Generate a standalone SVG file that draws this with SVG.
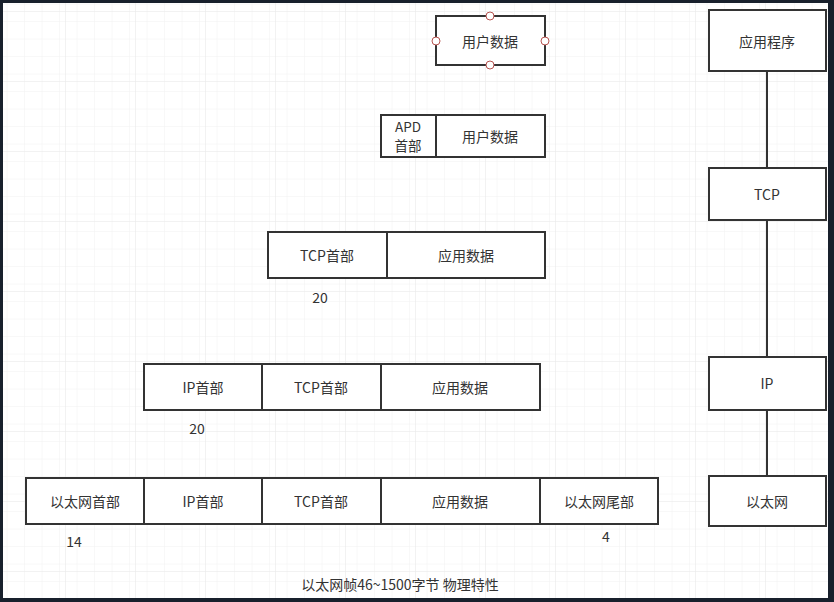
<svg xmlns="http://www.w3.org/2000/svg" width="834" height="602" viewBox="0 0 834 602">
<defs>
<pattern id="minor" x="-5" y="11" width="17.5" height="17.5" patternUnits="userSpaceOnUse"><path d="M17.5 0V17.5M0 17.5H17.5" fill="none" stroke="#f2f2f2" stroke-width="1"/></pattern>
<pattern id="major" x="-5" y="11" width="70" height="70" patternUnits="userSpaceOnUse"><rect width="70" height="70" fill="url(#minor)"/><path d="M0 0V70M0 0H70" fill="none" stroke="#e6e6e6" stroke-width="1"/></pattern>
<style>
.b{fill:#fff;stroke:#333;stroke-width:2}
text{font-family:"Noto Sans CJK SC","Liberation Sans",sans-serif;font-size:14px;fill:#333;text-anchor:middle;dominant-baseline:central}
.s{font-size:13.5px}
.h{fill:#fff;stroke:#b85450;stroke-width:1}
</style>
</defs>
<rect width="834" height="602" fill="#18202c"/>
<rect x="3" y="3" width="825" height="595" fill="#fff"/>
<rect x="3" y="3" width="825" height="595" fill="url(#major)"/>
<g id="connectors"><path d="M767 71V168M767 220V357M767 410V476" stroke="#333" stroke-width="2" fill="none"/></g>
<g id="user1"><rect class="b" x="436" y="16" width="109" height="49"/><text x="490" y="41">用户数据</text>
<circle class="h" cx="490" cy="16" r="4"/><circle class="h" cx="436" cy="41" r="4"/><circle class="h" cx="545" cy="41" r="4"/><circle class="h" cx="490" cy="65" r="4"/></g>
<g id="row2"><rect class="b" x="381" y="115" width="55" height="42"/><text class="s" x="408" y="126">APD</text><text class="s" x="408" y="145">首部</text>
<rect class="b" x="436" y="115" width="109" height="42"/><text x="490" y="136">用户数据</text></g>
<g id="row3"><rect class="b" x="268" y="232" width="119" height="46"/><text x="327" y="255">TCP首部</text>
<rect class="b" x="387" y="232" width="158" height="46"/><text x="466" y="255">应用数据</text><text x="320" y="297">20</text></g>
<g id="row4"><rect class="b" x="144" y="364" width="118" height="46"/><text x="203" y="387">IP首部</text>
<rect class="b" x="262" y="364" width="119" height="46"/><text x="321" y="387">TCP首部</text>
<rect class="b" x="381" y="364" width="159" height="46"/><text x="460" y="387">应用数据</text><text x="197" y="428">20</text></g>
<g id="row5"><rect class="b" x="26" y="478" width="118" height="46"/><text x="85" y="501">以太网首部</text>
<rect class="b" x="144" y="478" width="118" height="46"/><text x="203" y="501">IP首部</text>
<rect class="b" x="262" y="478" width="119" height="46"/><text x="321" y="501">TCP首部</text>
<rect class="b" x="381" y="478" width="159" height="46"/><text x="460" y="501">应用数据</text>
<rect class="b" x="540" y="478" width="118" height="46"/><text x="599" y="501">以太网尾部</text>
<text x="74" y="541">14</text><text x="606" y="536">4</text></g>
<g id="app"><rect class="b" x="709" y="10" width="117" height="61"/><text x="767" y="41">应用程序</text></g>
<g id="tcp"><rect class="b" x="709" y="168" width="117" height="52"/><text x="767" y="194">TCP</text></g>
<g id="ip"><rect class="b" x="709" y="357" width="117" height="53"/><text x="767" y="383">IP</text></g>
<g id="eth"><rect class="b" x="709" y="476" width="117" height="50"/><text x="767" y="501">以太网</text></g>
<text x="400" y="584">以太网帧46~1500字节 物理特性</text>
</svg>
